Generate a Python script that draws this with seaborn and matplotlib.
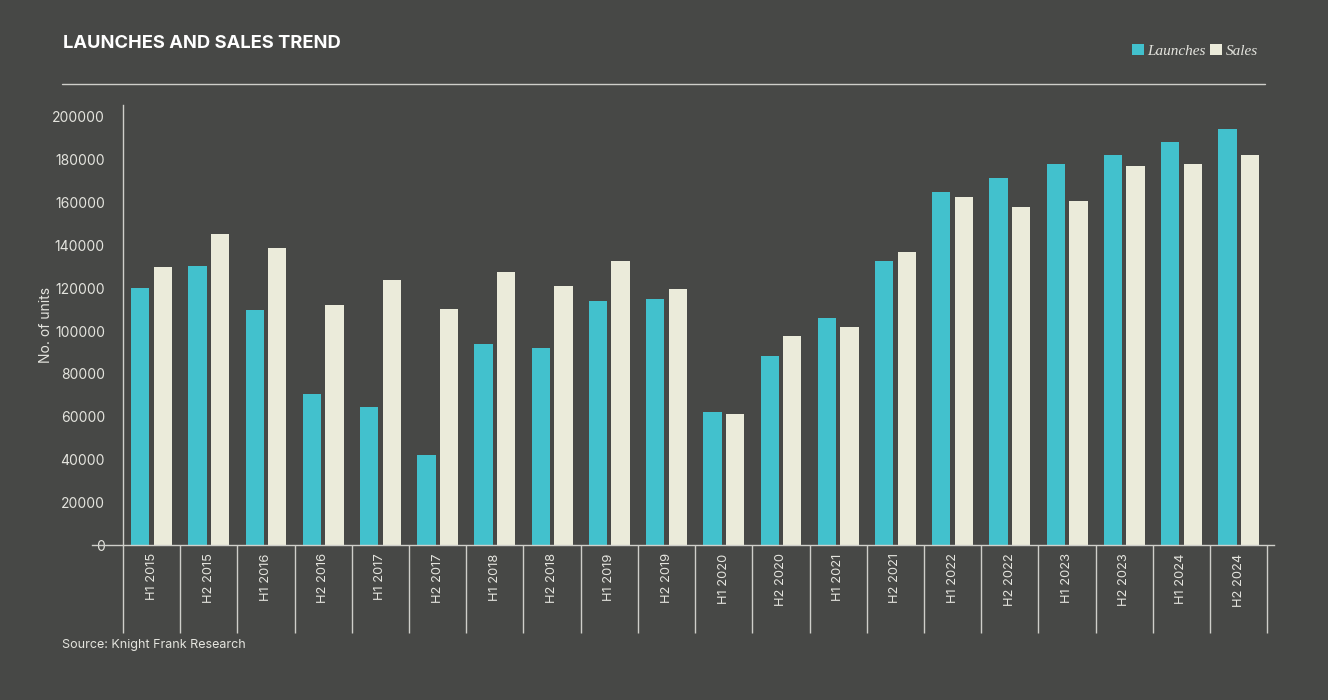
import pandas as pd
import seaborn as sns
import matplotlib.pyplot as plt

# half-year periods
periods = ['H1 2015', 'H2 2015', 'H1 2016', 'H2 2016', 'H1 2017', 'H2 2017',
           'H1 2018', 'H2 2018', 'H1 2019', 'H2 2019', 'H1 2020', 'H2 2020',
           'H1 2021', 'H2 2021', 'H1 2022', 'H2 2022', 'H1 2023', 'H2 2023',
           'H1 2024', 'H2 2024']

launches = [120200, 130400, 110000, 70600, 64500, 41900, 94100, 91900,
            114100, 115100, 62200, 88300, 106100, 132600, 165000, 171700,
            177900, 182100, 188200, 194400]

sales = [130100, 145200, 138600, 112000, 123800, 110100, 127400, 121200,
         132600, 119600, 61200, 97500, 102000, 136900, 162800, 157900,
         160800, 177000, 177900, 182100]

yticks = list(range(0, 200001, 20000))

BG = '#474846'
TEAL = '#42c1cd'
CREAM = '#ebebda'
TXT = '#e4e4de'
LINE = '#cfcfca'

df = pd.DataFrame({
    'Period': periods * 2,
    'Units': launches + sales,
    'Series': ['Launches'] * len(periods) + ['Sales'] * len(periods),
})

sns.set_style('ticks')
plt.rcParams['font.family'] = ['Inter', 'DejaVu Sans']

fig = plt.figure(figsize=(13.28, 7), dpi=100, facecolor=BG)
ax = fig.add_axes([0.0926, 0.2214, 0.8617, 0.6286])
ax.set_facecolor(BG)

sns.barplot(data=df, x='Period', y='Units', hue='Series', order=periods,
            palette={'Launches': TEAL, 'Sales': CREAM}, width=0.79, gap=0.19,
            saturation=1, linewidth=0, ax=ax)

ax.set_xlim(-0.5, len(periods) - 0.5)
ax.set_ylim(0, 205600)
ax.set_yticks(yticks)
ax.set_xlabel('')
ax.set_ylabel('No. of units', color=TXT, fontsize=10, labelpad=-1)

for s in ['top', 'right']:
    ax.spines[s].set_visible(False)
for s in ['left', 'bottom']:
    ax.spines[s].set_color(LINE)
    ax.spines[s].set_linewidth(1)
ax.spines['bottom'].set_bounds(-1.04, len(periods) - 0.38)

ax.tick_params(axis='y', length=0, pad=13, labelsize=10, labelcolor=TXT)
ax.tick_params(axis='x', which='major', length=0, pad=6, labelsize=9.3,
               labelcolor=TXT, rotation=90)
ax.set_xticks([i - 0.5 for i in range(len(periods) + 1)], minor=True)
ax.tick_params(axis='x', which='minor', length=63, width=1, color=LINE)
for lab in ax.get_xticklabels():
    lab.set_va('top')

# legend top-right
sns.move_legend(ax, loc='center right', bbox_to_anchor=(1263 / 1328, 1 - 51 / 700),
                bbox_transform=fig.transFigure, ncol=2, title=None, frameon=False,
                handlelength=0.85, handleheight=0.85, handletextpad=0.25,
                columnspacing=0.3, borderaxespad=0)
for t in ax.get_legend().get_texts():
    t.set_color(TXT)
    t.set_family('Liberation Serif')
    t.set_style('italic')
    t.set_fontsize(11)

fig.text(63 / 1328, 1 - 43 / 700, 'LAUNCHES AND SALES TREND', color='white',
         fontsize=13.2, fontweight='bold', va='center', ha='left')
fig.add_artist(plt.Line2D([62 / 1328, 1265 / 1328], [1 - 84 / 700, 1 - 84 / 700],
                          color=LINE, lw=1))
fig.text(62 / 1328, 1 - 645 / 700, 'Source: Knight Frank Research', color=TXT,
         fontsize=9, va='center', ha='left')

fig.savefig('out.png', dpi=100, facecolor=BG)
